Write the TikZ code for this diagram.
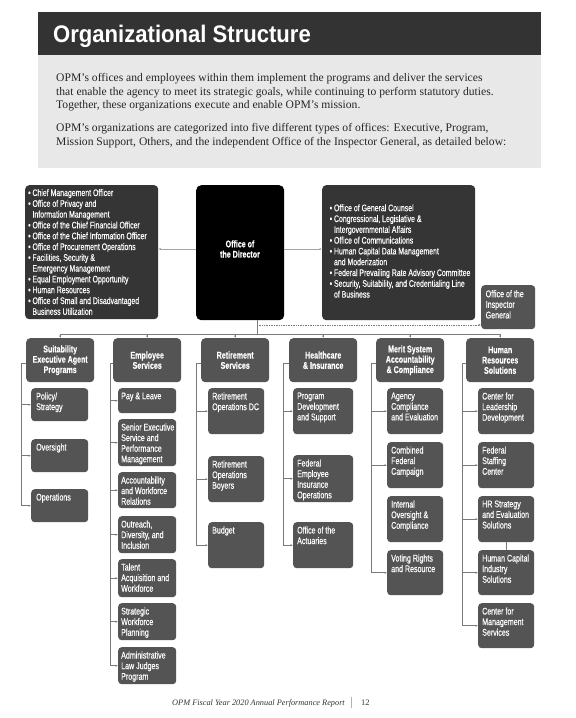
\documentclass[tikz,border=0pt]{standalone}
\usepackage{fontspec}
\setmainfont{Liberation Serif}
\newfontfamily\cond[FakeStretch=0.73, FakeBold=0.35]{Liberation Sans}
\newfontfamily\titlefont[FakeStretch=0.92]{Liberation Sans}
\usetikzlibrary{arrows.meta}
\definecolor{band}{HTML}{333333}
\definecolor{panel}{HTML}{E8E8E8}
\definecolor{listc}{HTML}{353535}
\definecolor{boxc}{HTML}{545454}
\definecolor{linec}{HTML}{7A7A7A}
\definecolor{toplinec}{HTML}{A5A5A5}
\tikzset{
  cbox/.style={draw=none, fill=boxc, rounded corners=3.5pt, inner sep=0pt, anchor=north west},
  lbox/.style={draw=none, fill=listc, rounded corners=4pt, inner sep=0pt, anchor=north west},
  ctxt/.style={text=white, font=\cond\fontsize{9.7}{10.6}\selectfont, align=left, inner sep=0pt, anchor=north west},
  ltxt/.style={text=white, font=\cond\fontsize{9.5}{10.8}\selectfont, align=left, inner sep=0pt, anchor=west},
  htxt/.style={text=white, font=\cond\bfseries\fontsize{9.7}{10.3}\selectfont, align=center, inner sep=0pt},
  para/.style={anchor=base west, inner sep=0pt, font=\fontsize{11.6}{13.5}\selectfont, text=black!85},
  conn/.style={draw=linec, line width=0.7pt},
  topconn/.style={draw=toplinec, line width=0.9pt},
  tip/.style={-{Latex[length=2.4pt,width=2.2pt]}},
}
\newcommand\padx{4}
\newcommand\cb[6]{%
  \node[cbox, minimum width=#5pt, minimum height=#4pt] (#1) at (#2,#3) {};
  \node[ctxt] (#1t) at ([xshift=\padx pt,yshift=-4.3pt]#1.north west) {#6};}
\newcommand\hb[3]{%
  \node[cbox, minimum width=68pt, minimum height=44pt, rounded corners=4pt] (#1) at (#2,338) {};
  \node[htxt] (#1t) at (#1.center) {#3};}
\newcommand\bl{\makebox[4.3pt][l]{•}}
\newcommand\ind{\hspace*{4.3pt}}
\begin{document}
\begin{tikzpicture}[x=1pt,y=-1pt]
\useasboundingbox[fill=white] (0,0) rectangle (576,718);
% ---- header
\fill[band] (38,12) rectangle (541,55);
\fill[panel] (38,55) rectangle (541,168);
\node[anchor=base west, text=white, inner sep=0pt, font=\titlefont\bfseries\fontsize{24}{28}\selectfont] (title) at (53,42) {Organizational Structure};
\node[para] (p1) at (56,81.5) {OPM’s offices and employees within them implement the programs and deliver the services};
\node[para] (p2) at (56,95) {that enable the agency to meet its strategic goals, while continuing to perform statutory duties.};
\node[para] (p3) at (56,108.5) {Together, these organizations execute and enable OPM’s mission.};
\node[para] (p4) at (56,131.5) {OPM’s organizations are categorized into five different types of offices: Executive, Program,};
\node[para] (p5) at (56,145) {Mission Support, Others, and the independent Office of the Inspector General, as detailed below:};
% ---- top level
\node[lbox, minimum width=133pt, minimum height=134pt] (L) at (25,185) {};
\node[ltxt] (Lt) at (28,252) {\bl Chief Management Officer\\
\bl Office of Privacy and\\
\ind Information Management\\
\bl Office of the Chief Financial Officer\\
\bl Office of the Chief Information Officer\\
\bl Office of Procurement Operations\\
\bl Facilities, Security \&\\
\ind Emergency Management\\
\bl Equal Employment Opportunity\\
\bl Human Resources\\
\bl Office of Small and Disadvantaged\\
\ind Business Utilization};
\node[lbox, fill=black, rounded corners=5pt, minimum width=88pt, minimum height=135pt] (D) at (196,185) {};
\node[htxt] (Dt) at (240,249) {Office of\\the Director};
\node[lbox, minimum width=153pt, minimum height=135pt] (R) at (322,185) {};
\node[ltxt] (Rt) at (329.5,251) {\bl Office of General Counsel\\
\bl Congressional, Legislative \&\\
\ind Intergovernmental Affairs\\
\bl Office of Communications\\
\bl Human Capital Data Management\\
\ind and Moderization\\
\bl Federal Prevailing Rate Advisory Committee\\
\bl Security, Suitability, and Credentialing Line\\
\ind of Business};
\node[cbox, minimum width=54pt, minimum height=44pt] (OIG) at (481,285) {};
\node[ctxt] (OIGt) at (485.5,290) {Office of the\\Inspector\\General};
% ---- headers
\hb{h1}{26}{Suitability\\Executive Agent\\Programs}
\hb{h2}{113}{Employee\\Services}
\hb{h3}{201}{Retirement\\Services}
\hb{h4}{289}{Healthcare\\\& Insurance}
\hb{h5}{376}{Merit System\\Accountability\\\& Compliance}
\hb{h6}{466}{Human\\Resources\\Solutions}
% ---- children
\renewcommand\padx{5}
\cb{a1}{31}{388}{33}{57}{Policy/\\Strategy}
\cb{a2}{31}{439}{33}{57}{Oversight}
\cb{a3}{31}{489}{33}{57}{Operations}
\renewcommand\padx{3}
\cb{b1}{118}{388}{25}{58}{Pay \& Leave}
\cb{b2}{118}{419}{47}{58}{Senior Executive\\Service and\\Performance\\Management}
\cb{b3}{118}{472}{36}{58}{Accountability\\and Workforce\\Relations}
\cb{b4}{118}{516}{37}{58}{Outreach,\\Diversity, and\\Inclusion}
\cb{b5}{118}{559}{38}{58}{Talent\\Acquisition and\\Workforce}
\cb{b6}{118}{603}{37}{58}{Strategic\\Workforce\\Planning}
\cb{b7}{118}{647}{37}{58}{Administrative\\Law Judges\\Program}
\renewcommand\padx{4}
\cb{c1}{208}{388}{46}{56}{Retirement\\Operations DC}
\cb{c2}{208}{456}{46}{56}{Retirement\\Operations\\Boyers}
\cb{c3}{208}{522}{46}{56}{Budget}
\cb{d1}{293}{388}{46}{60}{Program\\Development\\and Support}
\cb{d2}{293}{455}{47}{60}{Federal\\Employee\\Insurance\\Operations}
\cb{d3}{293}{522}{46}{60}{Office of the\\Actuaries}
\cb{e1}{387}{388}{46}{56}{Agency\\Compliance\\and Evaluation}
\cb{e2}{387}{442}{46}{56}{Combined\\Federal\\Campaign}
\cb{e3}{387}{496}{46}{56}{Internal\\Oversight \&\\Compliance}
\cb{e4}{387}{550}{45}{56}{Voting Rights\\and Resource}
\cb{f1}{478}{388}{46}{56}{Center for\\Leadership\\Development}
\cb{f2}{478}{442}{46}{56}{Federal\\Staffing\\Center}
\cb{f3}{478}{496}{46}{56}{HR Strategy\\and Evaluation\\Solutions}
\cb{f4}{478}{550}{45}{56}{Human Capital\\Industry\\Solutions}
\cb{f5}{478}{603}{45}{56}{Center for\\Management\\Services}
% ---- connectors top
\coordinate (cy) at (0,249);
\draw[topconn, tip] (D.west |- cy) -- (L.east |- cy);
\draw[topconn, tip] (D.east |- cy) -- (R.west |- cy);
\coordinate (bus) at (257,334);
\coordinate (dj) at (257,325);
\draw[conn] (D.south -| bus) -- (bus);
\draw[conn, densely dotted, tip] (dj) -- (OIG.west |- dj);
\draw[conn] (h1.north |- bus) -- (h6.north |- bus);
\foreach \h in {h1,h2,h3,h4,h5,h6} \draw[conn, tip] (\h.north |- bus) -- (\h.north);
% ---- spines
\coordinate (s1) at (21,363);
\coordinate (s2) at (110,363);
\coordinate (s3) at (196,363);
\coordinate (s4) at (283,363);
\coordinate (s5) at (371,363);
\coordinate (s6) at (462,363);
\draw[conn] (h1.west |- s1) -- (s1) -- (s1 |- a3.west);
\foreach \c in {a1,a2,a3} \draw[conn, tip] (s1 |- \c.west) -- (\c.west);
\draw[conn] (h2.west |- s2) -- (s2) -- (s2 |- b7.west);
\foreach \c in {b1,b2,b3,b4,b5,b6,b7} \draw[conn, tip] (s2 |- \c.west) -- (\c.west);
\draw[conn] (h3.west |- s3) -- (s3) -- (s3 |- c3.west);
\foreach \c in {c1,c2,c3} \draw[conn, tip] (s3 |- \c.west) -- (\c.west);
\draw[conn] (h4.west |- s4) -- (s4) -- (s4 |- d3.west);
\foreach \c in {d1,d2,d3} \draw[conn, tip] (s4 |- \c.west) -- (\c.west);
\draw[conn] (h5.west |- s5) -- (s5) -- (s5 |- e4.west);
\foreach \c in {e1,e2,e4} \draw[conn, tip] (s5 |- \c.west) -- (\c.west);
\draw[conn] (h6.west |- s6) -- (s6) -- (s6 |- f5.west);
\foreach \c in {f1,f2,f3,f4,f5} \draw[conn, tip] (s6 |- \c.west) -- (\c.west);
\draw[conn] (f3.south) -- (f4.north);
% ---- footer
\node[anchor=base west, inner sep=0pt, font=\itshape\fontsize{8.3}{10}\selectfont, text=black!80] (foot) at (172,705) {OPM Fiscal Year 2020 Annual Performance Report};
\draw[black!30, line width=0.6pt] (351,697) -- (351,708);
\node[anchor=base west, inner sep=0pt, font=\fontsize{8.5}{10}\selectfont, text=black!80] (pg) at (361,705) {12};
\end{tikzpicture}
\end{document}
